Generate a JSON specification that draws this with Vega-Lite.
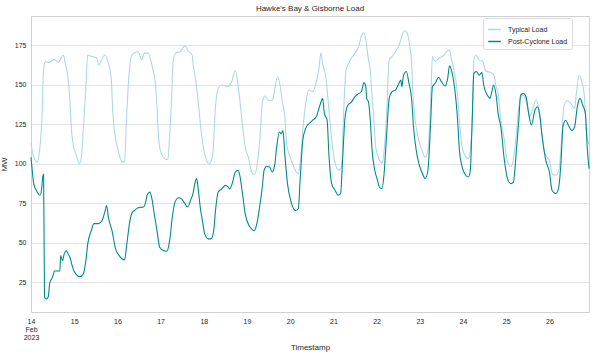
{
  "$schema": "https://vega.github.io/schema/vega-lite/v6.json",
  "width": 558,
  "height": 296,
  "autosize": {"type": "none"},
  "padding": {"left": 31, "top": 16, "right": 13, "bottom": 43},
  "background": "white",
  "title": {"text": "Hawke's Bay & Gisborne Load", "fontSize": 8, "font": "Liberation Sans", "fontWeight": "normal", "color": "#262626", "offset": 3, "anchor": "middle"},
  "config": {
    "view": {"stroke": "#d0d0d0", "strokeWidth": 1},
    "font": "Liberation Sans"
  },
  "datasets": {
    "typical": [
      {"t":"2023-02-14T00:00","v":113},{"t":"2023-02-14T01:30","v":104},{"t":"2023-02-14T03:30","v":101},{"t":"2023-02-14T04:30","v":106},{"t":"2023-02-14T06:00","v":127},{"t":"2023-02-14T07:00","v":159},{"t":"2023-02-14T08:00","v":164.6},{"t":"2023-02-14T10:00","v":164},{"t":"2023-02-14T13:00","v":166},{"t":"2023-02-14T15:00","v":164},{"t":"2023-02-14T18:00","v":168.8},{"t":"2023-02-14T19:00","v":163.5},{"t":"2023-02-14T20:30","v":155},{"t":"2023-02-14T21:30","v":142},{"t":"2023-02-14T22:30","v":121},{"t":"2023-02-14T23:30","v":111.6},
      {"t":"2023-02-15T01:00","v":106},{"t":"2023-02-15T03:00","v":100},{"t":"2023-02-15T04:00","v":104},{"t":"2023-02-15T05:00","v":121},{"t":"2023-02-15T06:30","v":148.7},{"t":"2023-02-15T07:30","v":168.8},{"t":"2023-02-15T09:30","v":168},{"t":"2023-02-15T12:30","v":167},{"t":"2023-02-15T13:30","v":162.5},{"t":"2023-02-15T17:00","v":168.8},{"t":"2023-02-15T19:00","v":163.5},{"t":"2023-02-15T20:30","v":155},{"t":"2023-02-15T21:30","v":131.8},{"t":"2023-02-15T23:30","v":112.7},
      {"t":"2023-02-16T01:00","v":106},{"t":"2023-02-16T02:30","v":101},{"t":"2023-02-16T04:00","v":101.5},{"t":"2023-02-16T05:00","v":127},{"t":"2023-02-16T06:30","v":157},{"t":"2023-02-16T08:00","v":168.8},{"t":"2023-02-16T11:30","v":171},{"t":"2023-02-16T13:30","v":165.7},{"t":"2023-02-16T15:00","v":170},{"t":"2023-02-16T17:00","v":170},{"t":"2023-02-16T18:30","v":165.7},{"t":"2023-02-16T20:00","v":158},{"t":"2023-02-16T21:00","v":152},{"t":"2023-02-16T22:00","v":136},{"t":"2023-02-16T23:00","v":114.8},
      {"t":"2023-02-17T00:30","v":106},{"t":"2023-02-17T02:30","v":103},{"t":"2023-02-17T04:00","v":102.5},{"t":"2023-02-17T05:00","v":117},{"t":"2023-02-17T06:00","v":138},{"t":"2023-02-17T07:00","v":165.7},{"t":"2023-02-17T08:30","v":170},{"t":"2023-02-17T11:00","v":171},{"t":"2023-02-17T13:30","v":174.6},{"t":"2023-02-17T15:30","v":171},{"t":"2023-02-17T17:30","v":168.8},{"t":"2023-02-17T18:00","v":163.5},{"t":"2023-02-17T19:30","v":153},{"t":"2023-02-17T21:00","v":138},{"t":"2023-02-17T22:30","v":121},
      {"t":"2023-02-18T00:30","v":106},{"t":"2023-02-18T03:00","v":100},{"t":"2023-02-18T05:00","v":106},{"t":"2023-02-18T06:30","v":136},{"t":"2023-02-18T08:00","v":147.7},{"t":"2023-02-18T10:00","v":149.8},{"t":"2023-02-18T13:00","v":148.7},{"t":"2023-02-18T15:30","v":152},{"t":"2023-02-18T17:30","v":159},{"t":"2023-02-18T19:30","v":145.5},{"t":"2023-02-18T21:00","v":129.7},{"t":"2023-02-18T23:00","v":110.6},
      {"t":"2023-02-19T01:00","v":103},{"t":"2023-02-19T02:30","v":94.7},{"t":"2023-02-19T04:00","v":93},{"t":"2023-02-19T06:00","v":102},{"t":"2023-02-19T07:30","v":121},{"t":"2023-02-19T08:30","v":139},{"t":"2023-02-19T10:00","v":142.8},{"t":"2023-02-19T12:00","v":140},{"t":"2023-02-19T14:00","v":140},{"t":"2023-02-19T15:30","v":147.7},{"t":"2023-02-19T17:00","v":155},{"t":"2023-02-19T18:30","v":148.7},{"t":"2023-02-19T19:30","v":140},{"t":"2023-02-19T21:00","v":129.7},{"t":"2023-02-19T22:00","v":112.7},
      {"t":"2023-02-20T00:00","v":104},{"t":"2023-02-20T02:00","v":98},{"t":"2023-02-20T04:30","v":93.6},{"t":"2023-02-20T05:30","v":100},{"t":"2023-02-20T07:30","v":127.5},{"t":"2023-02-20T09:00","v":141},{"t":"2023-02-20T10:30","v":146.6},{"t":"2023-02-20T12:30","v":145.5},{"t":"2023-02-20T14:00","v":149.8},{"t":"2023-02-20T16:00","v":160},{"t":"2023-02-20T17:00","v":170},{"t":"2023-02-20T18:00","v":163.5},{"t":"2023-02-20T20:00","v":153},{"t":"2023-02-20T21:30","v":134},{"t":"2023-02-20T23:30","v":110.6},
      {"t":"2023-02-21T01:00","v":100},{"t":"2023-02-21T03:00","v":95.8},{"t":"2023-02-21T04:30","v":98},{"t":"2023-02-21T05:30","v":127.5},{"t":"2023-02-21T07:00","v":159},{"t":"2023-02-21T08:30","v":163.5},{"t":"2023-02-21T10:30","v":167.8},{"t":"2023-02-21T12:00","v":170},{"t":"2023-02-21T14:00","v":174},{"t":"2023-02-21T15:30","v":180.5},{"t":"2023-02-21T17:00","v":183},{"t":"2023-02-21T18:00","v":178.4},{"t":"2023-02-21T19:30","v":165.7},{"t":"2023-02-21T20:30","v":159},{"t":"2023-02-21T21:30","v":142},{"t":"2023-02-21T22:30","v":127.5},{"t":"2023-02-21T23:30","v":110.6},
      {"t":"2023-02-22T01:00","v":104},{"t":"2023-02-22T03:00","v":100.4},{"t":"2023-02-22T04:00","v":106},{"t":"2023-02-22T05:30","v":130},{"t":"2023-02-22T07:00","v":165.7},{"t":"2023-02-22T08:30","v":167.8},{"t":"2023-02-22T10:30","v":171},{"t":"2023-02-22T12:30","v":175},{"t":"2023-02-22T14:00","v":180.5},{"t":"2023-02-22T15:30","v":184.3},{"t":"2023-02-22T17:00","v":182.6},{"t":"2023-02-22T18:30","v":174},{"t":"2023-02-22T19:30","v":163.5},{"t":"2023-02-22T20:00","v":148.7},{"t":"2023-02-22T21:00","v":131.8},{"t":"2023-02-22T23:00","v":117},
      {"t":"2023-02-23T01:30","v":107.4},{"t":"2023-02-23T03:00","v":104},{"t":"2023-02-23T04:30","v":108.5},{"t":"2023-02-23T06:00","v":138},{"t":"2023-02-23T07:00","v":167.8},{"t":"2023-02-23T08:30","v":164.6},{"t":"2023-02-23T10:30","v":166.7},{"t":"2023-02-23T13:30","v":168.8},{"t":"2023-02-23T15:30","v":171.6},{"t":"2023-02-23T16:30","v":172},{"t":"2023-02-23T17:30","v":166.7},{"t":"2023-02-23T19:00","v":159},{"t":"2023-02-23T20:30","v":148.7},{"t":"2023-02-23T22:00","v":127.5},{"t":"2023-02-23T23:30","v":110.6},
      {"t":"2023-02-24T01:00","v":105.3},{"t":"2023-02-24T03:00","v":103},{"t":"2023-02-24T04:30","v":115},{"t":"2023-02-24T05:30","v":140},{"t":"2023-02-24T06:00","v":165},{"t":"2023-02-24T07:00","v":168.8},{"t":"2023-02-24T09:00","v":165.7},{"t":"2023-02-24T11:00","v":164.6},{"t":"2023-02-24T12:30","v":159},{"t":"2023-02-24T14:30","v":158},{"t":"2023-02-24T16:30","v":157},{"t":"2023-02-24T17:30","v":155},{"t":"2023-02-24T18:00","v":150.8},{"t":"2023-02-24T19:30","v":144.5},{"t":"2023-02-24T21:00","v":127.5},{"t":"2023-02-24T23:00","v":114.8},
      {"t":"2023-02-25T00:30","v":102},{"t":"2023-02-25T02:30","v":98},{"t":"2023-02-25T03:30","v":100},{"t":"2023-02-25T05:30","v":117},{"t":"2023-02-25T07:00","v":136},{"t":"2023-02-25T09:00","v":143.4},{"t":"2023-02-25T11:00","v":140},{"t":"2023-02-25T13:00","v":129.7},{"t":"2023-02-25T14:30","v":134},{"t":"2023-02-25T16:30","v":140},{"t":"2023-02-25T18:30","v":131.8},{"t":"2023-02-25T20:00","v":117},{"t":"2023-02-25T21:30","v":106},
      {"t":"2023-02-26T00:00","v":102},{"t":"2023-02-26T01:30","v":93.6},{"t":"2023-02-26T04:00","v":92.6},{"t":"2023-02-26T05:30","v":98},{"t":"2023-02-26T07:00","v":119},{"t":"2023-02-26T08:00","v":136},{"t":"2023-02-26T10:00","v":140},{"t":"2023-02-26T12:00","v":138},{"t":"2023-02-26T14:00","v":135},{"t":"2023-02-26T15:00","v":144.5},{"t":"2023-02-26T16:30","v":156},{"t":"2023-02-26T18:00","v":152},{"t":"2023-02-26T19:30","v":141.3},{"t":"2023-02-26T20:30","v":121},{"t":"2023-02-26T22:00","v":112}
    ],
    "post": [
      {"t":"2023-02-14T00:00","v":104},{"t":"2023-02-14T00:30","v":98},{"t":"2023-02-14T01:30","v":87.3},{"t":"2023-02-14T03:00","v":83},{"t":"2023-02-14T05:00","v":80},{"t":"2023-02-14T06:00","v":85},{"t":"2023-02-14T06:30","v":91.5},{"t":"2023-02-14T07:00","v":93.2},{"t":"2023-02-14T07:30","v":15.3},{"t":"2023-02-14T08:30","v":14.2},{"t":"2023-02-14T09:30","v":15.3},{"t":"2023-02-14T10:30","v":24.8},{"t":"2023-02-14T11:30","v":27},{"t":"2023-02-14T12:30","v":30},{"t":"2023-02-14T13:00","v":32},{"t":"2023-02-14T16:00","v":32},{"t":"2023-02-14T16:30","v":41.7},{"t":"2023-02-14T17:30","v":38.6},{"t":"2023-02-14T18:30","v":43},{"t":"2023-02-14T19:30","v":45},{"t":"2023-02-14T20:30","v":43},{"t":"2023-02-14T21:30","v":41},{"t":"2023-02-14T22:30","v":37},{"t":"2023-02-14T23:30","v":33},
      {"t":"2023-02-15T01:00","v":30},{"t":"2023-02-15T03:00","v":28.4},{"t":"2023-02-15T05:00","v":30},{"t":"2023-02-15T06:30","v":38.6},{"t":"2023-02-15T07:30","v":49},{"t":"2023-02-15T09:30","v":57.6},{"t":"2023-02-15T11:00","v":62},{"t":"2023-02-15T13:30","v":62},{"t":"2023-02-15T15:30","v":64},{"t":"2023-02-15T17:00","v":69.3},{"t":"2023-02-15T18:00","v":73.5},{"t":"2023-02-15T19:00","v":66},{"t":"2023-02-15T21:00","v":57.6},{"t":"2023-02-15T23:00","v":46},
      {"t":"2023-02-16T01:00","v":41.7},{"t":"2023-02-16T04:00","v":39},{"t":"2023-02-16T05:00","v":47},{"t":"2023-02-16T07:00","v":64},{"t":"2023-02-16T08:00","v":68.6},{"t":"2023-02-16T09:30","v":70.3},{"t":"2023-02-16T11:30","v":72},{"t":"2023-02-16T14:30","v":72.5},{"t":"2023-02-16T15:30","v":74.6},{"t":"2023-02-16T16:30","v":80},{"t":"2023-02-16T18:00","v":82},{"t":"2023-02-16T19:00","v":78.8},{"t":"2023-02-16T20:30","v":68},{"t":"2023-02-16T22:00","v":57.6},{"t":"2023-02-16T23:30","v":47},
      {"t":"2023-02-17T01:30","v":45},{"t":"2023-02-17T03:30","v":44.5},{"t":"2023-02-17T05:00","v":51},{"t":"2023-02-17T06:30","v":66},{"t":"2023-02-17T08:00","v":75.6},{"t":"2023-02-17T10:00","v":78.4},{"t":"2023-02-17T11:30","v":77.8},{"t":"2023-02-17T13:30","v":74.6},{"t":"2023-02-17T15:00","v":72.5},{"t":"2023-02-17T17:00","v":77.8},{"t":"2023-02-17T18:00","v":81},{"t":"2023-02-17T19:00","v":87.3},{"t":"2023-02-17T20:00","v":90.5},{"t":"2023-02-17T21:00","v":83},{"t":"2023-02-17T22:00","v":72.5},{"t":"2023-02-17T23:30","v":62},
      {"t":"2023-02-18T00:30","v":55.5},{"t":"2023-02-18T02:30","v":52.3},{"t":"2023-02-18T04:00","v":52.3},{"t":"2023-02-18T05:30","v":57.6},{"t":"2023-02-18T06:30","v":70.3},{"t":"2023-02-18T08:00","v":82},{"t":"2023-02-18T10:00","v":84},{"t":"2023-02-18T12:00","v":86.2},{"t":"2023-02-18T13:30","v":85.2},{"t":"2023-02-18T14:30","v":84},{"t":"2023-02-18T16:00","v":88.3},{"t":"2023-02-18T17:30","v":94.7},{"t":"2023-02-18T19:00","v":95.8},{"t":"2023-02-18T20:00","v":92.6},{"t":"2023-02-18T21:30","v":81},{"t":"2023-02-18T23:00","v":68.2},
      {"t":"2023-02-19T01:00","v":61},{"t":"2023-02-19T02:30","v":58.7},{"t":"2023-02-19T04:00","v":57.6},{"t":"2023-02-19T05:30","v":62},{"t":"2023-02-19T07:00","v":72.5},{"t":"2023-02-19T08:30","v":85.2},{"t":"2023-02-19T09:30","v":95.8},{"t":"2023-02-19T11:00","v":98.3},{"t":"2023-02-19T12:30","v":97.9},{"t":"2023-02-19T14:00","v":94.7},{"t":"2023-02-19T15:30","v":100},{"t":"2023-02-19T16:30","v":110.6},{"t":"2023-02-19T18:00","v":120},{"t":"2023-02-19T19:00","v":119},{"t":"2023-02-19T20:00","v":121},{"t":"2023-02-19T21:00","v":106},{"t":"2023-02-19T22:30","v":87.3},
      {"t":"2023-02-20T00:30","v":75.6},{"t":"2023-02-20T03:00","v":70.3},{"t":"2023-02-20T04:30","v":71.4},{"t":"2023-02-20T05:30","v":89.4},{"t":"2023-02-20T07:00","v":114.8},{"t":"2023-02-20T08:30","v":122},{"t":"2023-02-20T10:30","v":125.4},{"t":"2023-02-20T12:30","v":127.5},{"t":"2023-02-20T14:30","v":129.7},{"t":"2023-02-20T16:00","v":135},{"t":"2023-02-20T17:30","v":140.3},{"t":"2023-02-20T18:00","v":141.3},{"t":"2023-02-20T19:00","v":131.8},{"t":"2023-02-20T20:30","v":127.5},{"t":"2023-02-20T21:30","v":106},{"t":"2023-02-20T23:00","v":87.3},
      {"t":"2023-02-21T01:00","v":83},{"t":"2023-02-21T02:30","v":80},{"t":"2023-02-21T04:00","v":81},{"t":"2023-02-21T05:00","v":100},{"t":"2023-02-21T06:30","v":129.7},{"t":"2023-02-21T08:00","v":137},{"t":"2023-02-21T10:00","v":139},{"t":"2023-02-21T12:00","v":142.4},{"t":"2023-02-21T14:00","v":144.3},{"t":"2023-02-21T15:30","v":145.5},{"t":"2023-02-21T17:00","v":151.3},{"t":"2023-02-21T18:00","v":148.7},{"t":"2023-02-21T18:30","v":141.3},{"t":"2023-02-21T19:30","v":139},{"t":"2023-02-21T20:30","v":127.5},{"t":"2023-02-21T21:30","v":108.5},{"t":"2023-02-21T23:00","v":95.8},
      {"t":"2023-02-22T00:30","v":89.4},{"t":"2023-02-22T01:30","v":85.2},{"t":"2023-02-22T03:00","v":84},{"t":"2023-02-22T04:00","v":91.5},{"t":"2023-02-22T05:30","v":117},{"t":"2023-02-22T07:00","v":141.3},{"t":"2023-02-22T08:30","v":145.5},{"t":"2023-02-22T10:30","v":146.6},{"t":"2023-02-22T12:00","v":149.8},{"t":"2023-02-22T13:30","v":153},{"t":"2023-02-22T14:00","v":148.7},{"t":"2023-02-22T15:00","v":156},{"t":"2023-02-22T16:30","v":158.3},{"t":"2023-02-22T18:00","v":150.8},{"t":"2023-02-22T19:30","v":140.3},{"t":"2023-02-22T20:30","v":123.3},{"t":"2023-02-22T22:00","v":108.5},{"t":"2023-02-22T23:30","v":100},
      {"t":"2023-02-23T01:30","v":93.6},{"t":"2023-02-23T03:00","v":90.5},{"t":"2023-02-23T04:30","v":95.8},{"t":"2023-02-23T06:00","v":125.4},{"t":"2023-02-23T07:00","v":148.7},{"t":"2023-02-23T08:30","v":150.8},{"t":"2023-02-23T10:30","v":154.7},{"t":"2023-02-23T12:00","v":151.9},{"t":"2023-02-23T14:00","v":149.2},{"t":"2023-02-23T15:30","v":154},{"t":"2023-02-23T16:30","v":161.9},{"t":"2023-02-23T18:00","v":157.2},{"t":"2023-02-23T19:30","v":146.6},{"t":"2023-02-23T21:00","v":127.5},{"t":"2023-02-23T22:00","v":108.5},{"t":"2023-02-23T23:30","v":98},
      {"t":"2023-02-24T01:30","v":92.6},{"t":"2023-02-24T03:00","v":91.5},{"t":"2023-02-24T04:00","v":95},{"t":"2023-02-24T05:00","v":123},{"t":"2023-02-24T06:00","v":157},{"t":"2023-02-24T07:30","v":158.3},{"t":"2023-02-24T09:00","v":156},{"t":"2023-02-24T10:30","v":157.6},{"t":"2023-02-24T11:30","v":149.8},{"t":"2023-02-24T13:30","v":143.4},{"t":"2023-02-24T15:00","v":141.3},{"t":"2023-02-24T16:00","v":145.5},{"t":"2023-02-24T17:00","v":149.8},{"t":"2023-02-24T18:30","v":142.4},{"t":"2023-02-24T19:30","v":131.8},{"t":"2023-02-24T21:00","v":123.3},{"t":"2023-02-24T23:00","v":102},
      {"t":"2023-02-25T00:30","v":91.5},{"t":"2023-02-25T02:30","v":87.3},{"t":"2023-02-25T04:00","v":88.3},{"t":"2023-02-25T05:30","v":106},{"t":"2023-02-25T07:00","v":127.5},{"t":"2023-02-25T08:00","v":143.4},{"t":"2023-02-25T09:30","v":144.5},{"t":"2023-02-25T11:00","v":142.4},{"t":"2023-02-25T12:30","v":131.8},{"t":"2023-02-25T14:00","v":124.4},{"t":"2023-02-25T16:00","v":134},{"t":"2023-02-25T17:30","v":136},{"t":"2023-02-25T18:30","v":131.8},{"t":"2023-02-25T20:00","v":117},{"t":"2023-02-25T22:00","v":102},
      {"t":"2023-02-26T00:00","v":94.7},{"t":"2023-02-26T01:30","v":83},{"t":"2023-02-26T03:30","v":81},{"t":"2023-02-26T05:00","v":84},{"t":"2023-02-26T06:30","v":102},{"t":"2023-02-26T07:30","v":123.3},{"t":"2023-02-26T09:00","v":127.5},{"t":"2023-02-26T10:30","v":124.4},{"t":"2023-02-26T12:30","v":121},{"t":"2023-02-26T14:00","v":123.3},{"t":"2023-02-26T15:30","v":136},{"t":"2023-02-26T17:00","v":141.3},{"t":"2023-02-26T18:30","v":137},{"t":"2023-02-26T20:00","v":131.8},{"t":"2023-02-26T21:00","v":110.6},{"t":"2023-02-26T22:00","v":96.8}
    ]
  },
  "encoding": {
    "x": {
      "field": "t", "type": "temporal", "title": "Timestamp",
      "scale": {"nice": false},
      "axis": {
        "grid": false, "ticks": false, "domain": false,
        "tickCount": {"interval": "day", "step": 1},
        "labelExpr": "date(datum.value) == 14 ? ['14', 'Feb', '2023'] : timeFormat(datum.value, '%d')",
        "labelFontSize": 7, "labelColor": "#262626", "labelLineHeight": 8,
        "labelOverlap": false, "labelFlush": false, "labelPadding": 5,
        "titleFontSize": 8, "titleFontWeight": "normal", "titleColor": "#262626", "titlePadding": 3
      }
    },
    "y": {
      "field": "v", "type": "quantitative", "title": "MW",
      "scale": {"domain": [6, 193.5], "nice": false, "zero": false},
      "axis": {
        "values": [25, 50, 75, 100, 125, 150, 175],
        "grid": true, "gridColor": "#e3e3e3", "gridWidth": 1,
        "ticks": false, "domain": false,
        "labelFontSize": 7, "labelColor": "#262626", "labelPadding": 5,
        "titleFontSize": 8, "titleFontWeight": "normal", "titleColor": "#262626", "titlePadding": 6
      }
    }
  },
  "layer": [
    {
      "data": {"name": "typical"},
      "mark": {"type": "line", "strokeWidth": 1.1, "interpolate": "monotone"},
      "encoding": {
        "color": {
          "datum": "Typical Load",
          "scale": {"domain": ["Typical Load", "Post-Cyclone Load"], "range": ["#add8e6", "#008b8b"]},
          "legend": {
            "title": null, "orient": "none", "legendX": 452, "legendY": 2,
            "symbolType": "stroke", "symbolStrokeWidth": 1.5, "symbolSize": 160,
            "labelFontSize": 7, "labelColor": "#262626", "labelOffset": 6,
            "fillColor": "white", "strokeColor": "#d9d9d9", "padding": 4, "cornerRadius": 2, "rowPadding": 1
          }
        }
      }
    },
    {
      "data": {"name": "post"},
      "mark": {"type": "line", "strokeWidth": 1.1, "interpolate": "monotone"},
      "encoding": {
        "color": {"datum": "Post-Cyclone Load"}
      }
    }
  ]
}
